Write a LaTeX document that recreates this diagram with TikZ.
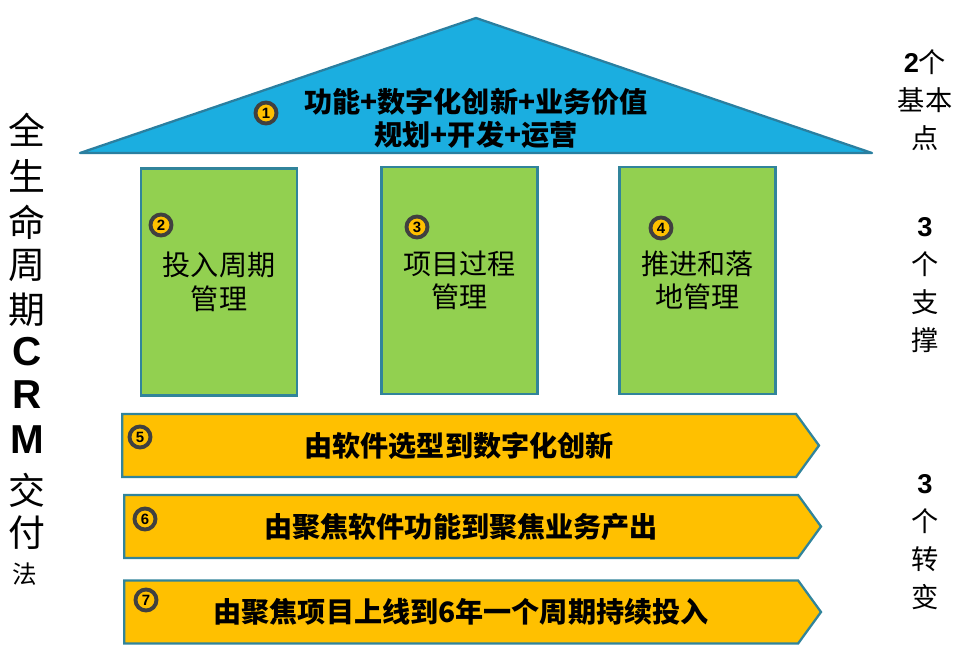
\documentclass[tikz,border=0pt]{standalone}
\usepackage{fontspec}
\setmainfont{Noto Sans CJK SC}
\newfontfamily\latin{Liberation Sans}
\usetikzlibrary{shapes.symbols,positioning}
\definecolor{roofblue}{HTML}{1BAEE0}
\definecolor{roofedge}{HTML}{2A7FA0}
\definecolor{pillargreen}{HTML}{92D050}
\definecolor{edgeteal}{HTML}{31849B}
\definecolor{bandgold}{HTML}{FFC000}
\definecolor{ringgray}{HTML}{404040}
\tikzset{
  pillar/.style={draw=edgeteal, line width=1.3pt, fill=pillargreen,
    minimum width=3.12cm, minimum height=4.54cm, align=center,
    font=\fontsize{16}{19}\selectfont},
  band/.style={shape=signal, signal to=east, signal pointer angle=108,
    draw=edgeteal, line width=1.3pt, fill=bandgold, inner sep=0pt,
    minimum width=13.94cm, minimum height=1.26cm, anchor=west,
    font=\fontsize{16}{19}\selectfont\bfseries},
  num/.style={circle, draw=ringgray, line width=2.2pt, fill=bandgold,
    inner sep=0pt, minimum size=0.42cm, font=\latin\fontsize{8.5}{9}\selectfont\bfseries},
  sidechar/.style={font=\fontsize{21}{24}\selectfont},
  sidenote/.style={align=center, font=\fontsize{15.5}{21.5}\selectfont}
}
\begin{document}
\begin{tikzpicture}[x=0.02cm,y=-0.02cm]
\useasboundingbox (0,0) rectangle (960,663);

\draw[fill=roofblue, draw=roofedge, line width=1.3pt, line join=round]
  (80,153) -- (476,18) -- (872,153) -- cycle;
\node[align=center, font=\fontsize{16}{18.7}\selectfont\bfseries] (roof) at (476,118)
  {功能+数字化创新+业务价值\\规划+开发+运营};
\node[num] (n1) at (266,113) {1};

\node[pillar] (p1) at (219,282) {投入周期\\管理};
\node[pillar] (p2) at (459.5,280.5) {项目过程\\管理};
\node[pillar] (p3) at (697.5,280.5) {推进和落\\地管理};
\node[num] (n2) at (161,225) {2};
\node[num] (n3) at (417,227) {3};
\node[num] (n4) at (661,228) {4};

\node[band] (b1) at (121,445.5) {由软件选型到数字化创新\hspace{0.25cm}};
\node[band] (b2) at (123,526.5) {由聚焦软件功能到聚焦业务产出\hspace{0.25cm}};
\node[band] (b3) at (123,612) {由聚焦项目上线到6年一个周期持续投入\hspace{0.25cm}};
\node[num] (n5) at (140,437) {5};
\node[num] (n6) at (145,519) {6};
\node[num] (n7) at (146,600) {7};

\foreach \y/\c [count=\i] in {130/全, 176/生, 222/命, 265/周, 310/期,
	490/交, 533/付} {
    \node[sidechar] (l\i) at (27,\y) {\c};
}
\foreach \y/\c [count=\i] in {352/C, 395/R, 440/M} {
    \node[font=\latin\fontsize{23}{24}\selectfont\bfseries] (m\i) at (27,\y) {\c};
}
\node[font=\fontsize{14}{16}\selectfont] (fa) at (25,574) {法};

\node[sidenote] (s1) at (925,100) {{\latin\bfseries 2}个\\基本\\点};
\node[sidenote] (s2) at (925,285) {{\latin\bfseries 3}\\个\\支\\撑};
\node[sidenote] (s3) at (925,542) {{\latin\bfseries 3}\\个\\转\\变};
\end{tikzpicture}
\end{document}
